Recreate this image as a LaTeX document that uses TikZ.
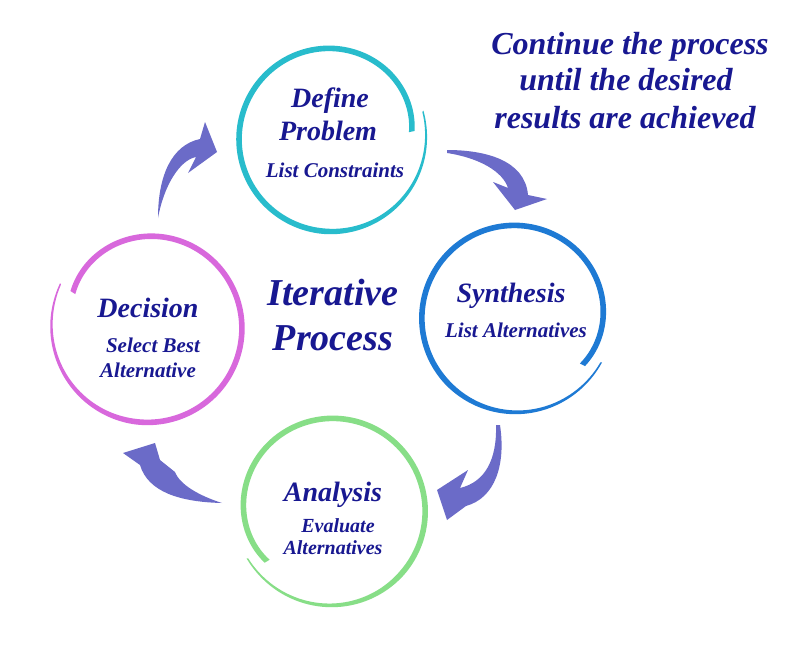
\documentclass[tikz,border=0pt]{standalone}
\usepackage{fontspec}
\setmainfont{Liberation Serif}

\definecolor{textblue}{RGB}{24,24,145}
\definecolor{flowblue}{RGB}{107,107,200}
\definecolor{ringdef}{RGB}{40,188,204}
\definecolor{ringsyn}{RGB}{30,122,212}
\definecolor{ringana}{RGB}{135,222,135}
\definecolor{ringdec}{RGB}{216,104,220}

% brush ring: centre, radius, start angle, sweep, colour
\newcommand{\brushring}[5]{%
  \fill[#5, shift={(#1)}]
    plot[domain=0:1, samples=120, smooth]
      ({(#2+4*(1-\x)^6-11*\x^8+0.7+2.1*min(1,\x/0.3))*cos(#3+#4*\x)},
       {-(#2+4*(1-\x)^6-11*\x^8+0.7+2.1*min(1,\x/0.3))*sin(#3+#4*\x)})
    -- plot[domain=1:0, samples=120, smooth]
      ({(#2+4*(1-\x)^6-11*\x^8-0.7-2.1*min(1,\x/0.3))*cos(#3+#4*\x)},
       {-(#2+4*(1-\x)^6-11*\x^8-0.7-2.1*min(1,\x/0.3))*sin(#3+#4*\x)})
    -- cycle;}

\begin{document}
\begin{tikzpicture}[x=1pt, y=-1pt]

\tikzset{txt/.style = {text=textblue, font=\bfseries\itshape, inner sep=0pt, anchor=base}}
\tikzset{head/.style = {txt, font=\bfseries\itshape\fontsize{28}{28}\selectfont}}
\tikzset{sub/.style = {txt, font=\bfseries\itshape\fontsize{21}{21}\selectfont}}
\tikzset{title/.style = {txt, font=\bfseries\itshape\fontsize{38}{38}\selectfont}}
\tikzset{note/.style = {txt, font=\bfseries\itshape\fontsize{32}{32}\selectfont}}
\tikzset{flow/.style = {fill=flowblue}}

\useasboundingbox[fill=white] (0,0) rectangle (800,653);

\coordinate (define) at (331,139);
\coordinate (synth) at (515,318);
\coordinate (analysis) at (332,511);
\coordinate (decision) at (148,328);

\brushring{define}{92}{17}{-372}{ringdef}
\brushring{synth}{93}{-27}{-368}{ringsyn}
\brushring{analysis}{93}{209}{369}{ringana}
\brushring{decision}{94}{153}{362}{ringdec}

% texts
\node[head] (defA) at (330,107) {Define};
\node[head] (defB) at (328,140) {Problem};
\node[sub] (defC) at (335,177) {List Constraints};
\node[head] (synA) at (511,302) {Synthesis};
\node[sub] (synB) at (516,337) {List Alternatives};
\node[head] (anaA) at (333,501) {Analysis};
\node[sub, font=\bfseries\itshape\fontsize{20}{20}\selectfont] (anaB) at (338,532) {Evaluate};
\node[sub, font=\bfseries\itshape\fontsize{20}{20}\selectfont] (anaC) at (333,554) {Alternatives};
\node[head] (decA) at (148,317) {Decision};
\node[sub] (decB) at (153,352) {Select Best};
\node[sub] (decC) at (148,377) {Alternative};
\node[title] (iterA) at (333,305) {Iterative};
\node[title] (iterB) at (333,350) {Process};
\node[note] (noteA) at (630,54) {Continue the process};
\node[note] (noteB) at (626,90) {until the desired};
\node[note] (noteC) at (625,128) {results are achieved};

% arrows
\coordinate (decOut) at (158,218);
\coordinate (defIn) at (217,152);
\fill[flow] (decOut) .. controls (158,175) and (172,145) .. (200,139)
  -- (205,122) -- (defIn) -- (188,173) -- (196,157)
  .. controls (180,160) and (164,185) .. (decOut) -- cycle;

\coordinate (defOut) at (447,150);
\coordinate (synIn) at (515,210);
\fill[flow] (defOut) .. controls (485,150) and (525,160) .. (528,195)
  -- (547,199) -- (synIn) -- (493,182) -- (508,188)
  .. controls (503,172) and (480,158) .. (447,153) -- cycle;

\coordinate (synOut) at (500,425);
\coordinate (anaIn) at (437,490);
\fill[flow] (synOut) .. controls (506,465) and (495,498) .. (466,506)
  -- (447,520) -- (anaIn) -- (468,470) -- (460,488)
  .. controls (485,482) and (497,460) .. (496,425) -- cycle;

\coordinate (anaOut) at (222,503);
\coordinate (decIn) at (123,453);
\fill[flow] (anaOut) .. controls (180,502) and (148,492) .. (140,465)
  -- (decIn) -- (155,443) -- (160,460) -- (175,472)
  .. controls (180,485) and (200,496) .. (anaOut) -- cycle;

\end{tikzpicture}
\end{document}
